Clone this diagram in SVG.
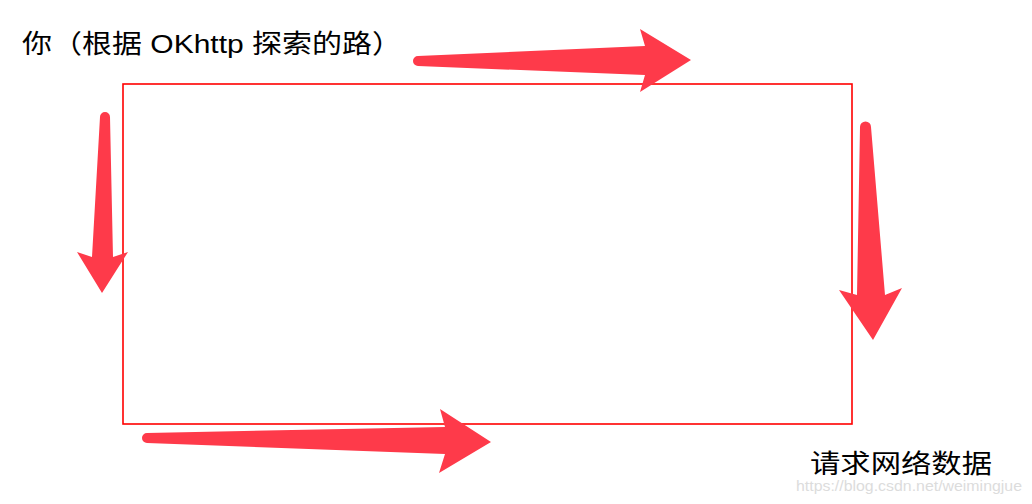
<svg xmlns="http://www.w3.org/2000/svg" width="1032" height="504" viewBox="0 0 1032 504">
<style>
.arrow{fill:#fe3a4a;stroke:none}
.lbl{font-family:"Liberation Sans","Noto Sans CJK SC",sans-serif;font-size:26px;fill:#000}
.wm{font-family:"Liberation Sans",Arial,sans-serif;font-size:15px;fill:#dcdcdc}
</style>
<rect width="1032" height="504" fill="#fff"/>
<g id="box">
<rect x="123" y="84" width="729" height="340" fill="none" stroke="#ff0000" stroke-width="1.6"/>
</g>
<g id="label-start">
<text class="lbl" x="22" y="53" textLength="380" lengthAdjust="spacingAndGlyphs">你（根据 OKhttp 探索的路）</text>
</g>
<g id="label-end">
<text class="lbl" x="810" y="473" textLength="182" lengthAdjust="spacingAndGlyphs">请求网络数据</text>
</g>
<g id="connectors">
<path class="arrow" d="M418,56 L645,46 L640,29 L691,60 L640,92 L645,75 L418,66 A5,5 0 0 1 418,56 Z"/>
<path class="arrow" d="M110,117 L113,257 L128,252 L102,293 L77,252 L92,257 L100,117 A5,5 0 0 1 110,117 Z"/>
<path class="arrow" d="M871,127 L885,295 L902,288 L873,340 L839,290 L857,295 L860,127 A5.5,5.5 0 0 1 871,127 Z"/>
<path class="arrow" d="M147,433 L445,427 L440,409 L491,442 L439,473 L445,454 L147,443 A5,5 0 0 1 147,433 Z"/>
</g>
<g id="watermark">
<text class="wm" x="796" y="491" textLength="226" lengthAdjust="spacingAndGlyphs">https://blog.csdn.net/weimingjue</text>
</g>
</svg>
